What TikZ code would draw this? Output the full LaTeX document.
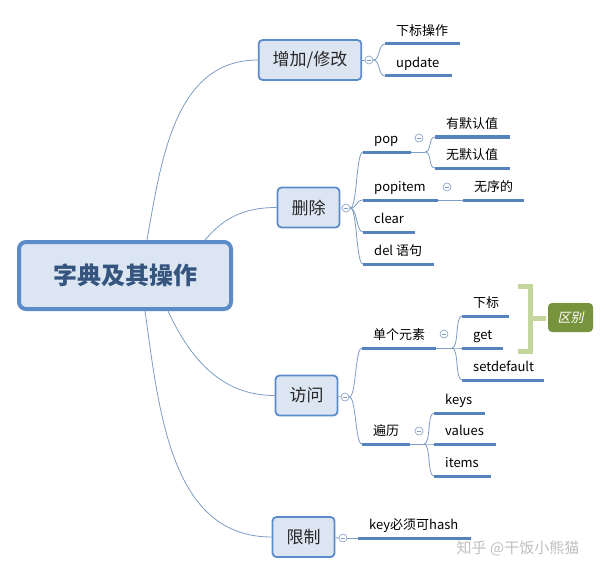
\documentclass[tikz,border=0pt]{standalone}
\usepackage{fontspec}
\setmainfont{Noto Sans CJK SC}
\newfontfamily\slantfont[FakeSlant=0.2]{Noto Sans CJK SC}
\definecolor{boxfill}{HTML}{DCE6F2}
\definecolor{boxline}{HTML}{5B8BC9}
\definecolor{ulinecol}{HTML}{5683BE}
\definecolor{linkcol}{HTML}{7D9CC4}
\definecolor{roottext}{HTML}{35557F}
\definecolor{bracecol}{HTML}{C3D69B}
\definecolor{notefill}{HTML}{77933C}
\begin{document}
\begin{tikzpicture}[x=1pt,y=-1pt,
  rootbox/.style={draw=boxline, line width=4pt, fill=boxfill, rounded corners=7pt, minimum width=212pt, minimum height=67pt, font=\fontsize{24}{28}\selectfont\bfseries, text=roottext},
  topic/.style={draw=boxline, line width=1.8pt, fill=boxfill, rounded corners=4pt, minimum height=40pt, inner xsep=14pt, font=\fontsize{17}{20}\selectfont, text=black!85},
  fold/.style={circle, draw=linkcol, fill=white, minimum size=8pt, inner sep=0pt, line width=0.6pt,
    path picture={\draw[linkcol, line width=0.6pt] ([xshift=-2.2pt]path picture bounding box.center) -- ([xshift=2.2pt]path picture bounding box.center);}},
  leaf/.style={anchor=south west, inner xsep=11pt, inner ysep=0pt, text height=10pt, text depth=8pt, font=\fontsize{13}{15}\selectfont},
  uline/.style={draw=ulinecol, line width=3pt},
  link/.style={draw=linkcol, line width=0.8pt},
  branch/.style={out=0, in=180, distance=7pt}]
\useasboundingbox (0,0) rectangle (610,575);

% root and main topics
\node[rootbox] (root) at (125,275.5) {字典及其操作};
\node[topic] (add) at (310,60) {增加/修改};
\node[topic] (del) at (308.5,207.5) {删除};
\node[topic] (acc) at (306.5,395.5) {访问};
\node[topic] (lim) at (303.5,537) {限制};
\draw[link] ([xshift=22pt]root.north) to[out=80,in=180] (add.west);
\draw[link] ([xshift=80pt]root.north) to[out=50,in=180] (del.west);
\draw[link] ([xshift=43pt]root.south) to[out=-65,in=180] (acc.west);
\draw[link] ([xshift=20pt]root.south) to[out=-82,in=180] (lim.west);

% 增加/修改
\node[fold] (addc) at (369,60) {};
\draw[link] (add) -- (addc);
\node[leaf] (sub) at (385,44) {下标操作};
\node[leaf] (upd) at (385,76) {update};
\draw[uline] (sub.south west) -- ++(75,0);
\draw[uline] (upd.south west) -- ++(67,0);
\draw[link] (addc.east) to[branch] (sub.south west);
\draw[link] (addc.east) to[branch] (upd.south west);

% 删除
\node[fold] (delc) at (346,208) {};
\draw[link] (del) -- (delc);
\node[leaf] (pop) at (363,152) {pop};
\node[leaf] (popitem) at (363,200) {popitem};
\node[leaf] (clear) at (363,232) {clear};
\node[leaf] (delst) at (363,264) {del 语句};
\draw[uline] (pop.south west) -- ++(48,0);
\draw[uline] (popitem.south west) -- ++(75,0);
\draw[uline] (clear.south west) -- ++(52,0);
\draw[uline] (delst.south west) -- ++(71,0);
\foreach \n in {pop,popitem,clear,delst}
  \draw[link] (delc.east) to[branch] (\n.south west);
% pop
\node[fold] (popc) at (419,138) {};
\coordinate (popj) at (425,152);
\node[leaf] (dflt) at (435,137) {有默认值};
\node[leaf] (nodflt) at (435,168) {无默认值};
\draw[uline] (dflt.south west) -- ++(75,0);
\draw[uline] (nodflt.south west) -- ++(75,0);
\draw[link] ([xshift=48pt]pop.south west) -- (popj);
\draw[link] (popj) to[branch] (dflt.south west);
\draw[link] (popj) to[branch] (nodflt.south west);
% popitem
\node[fold] (popitemc) at (447,187) {};
\node[leaf] (unord) at (463,200) {无序的};
\draw[uline] (unord.south west) -- ++(61,0);
\draw[link] ([xshift=75pt]popitem.south west) -- (unord.south west);

% 访问
\node[fold] (accc) at (345,397) {};
\draw[link] (acc) -- (accc);
\node[leaf] (single) at (362,348) {单个元素};
\node[leaf] (trav) at (362,444) {遍历};
\draw[uline] (single.south west) -- ++(74,0);
\draw[uline] (trav.south west) -- ++(48,0);
\draw[link] (accc.east) to[branch] (single.south west);
\draw[link] (accc.east) to[branch] (trav.south west);
% 单个元素
\node[fold] (singlec) at (444,334) {};
\coordinate (singlej) at (452,348);
\node[leaf] (idx) at (462,316) {下标};
\node[leaf] (get) at (462,348) {get};
\node[leaf] (setd) at (462,380) {setdefault};
\draw[uline] (idx.south west) -- ++(47,0);
\draw[uline] (get.south west) -- ++(41,0);
\draw[uline] (setd.south west) -- ++(82,0);
\draw[link] ([xshift=74pt]single.south west) -- (singlej);
\foreach \n in {idx,get,setd}
  \draw[link] (singlej) to[branch] (\n.south west);
% 遍历
\node[fold] (travc) at (419,431) {};
\coordinate (travj) at (424,444);
\node[leaf] (keys) at (434,413) {keys};
\node[leaf] (vals) at (434,444) {values};
\node[leaf] (items) at (434,476) {items};
\draw[uline] (keys.south west) -- ++(51,0);
\draw[uline] (vals.south west) -- ++(62,0);
\draw[uline] (items.south west) -- ++(57,0);
\draw[link] ([xshift=48pt]trav.south west) -- (travj);
\foreach \n in {keys,vals,items}
  \draw[link] (travj) to[branch] (\n.south west);
% 区别
\draw[bracecol, line width=5pt] (518,286) -- (530,286) -- (530,351) -- (518,351);
\draw[bracecol, line width=5pt] (530,318) -- (546,318);
\node[fill=notefill, rounded corners=4pt, minimum width=45pt, minimum height=29pt, text=white, font=\fontsize{13}{15}\slantfont] (diff) at (570.5,317.5) {区别};

% 限制
\node[fold] (limc) at (343,538) {};
\draw[link] (lim) -- (limc);
\node[leaf] (hash) at (358,538) {key必须可hash};
\draw[uline] (hash.south west) -- ++(113,0);
\draw[link] (limc.east) -- (hash.south west);

\node[text=black!25, font=\fontsize{15}{18}\selectfont] (mark) at (518,548) {知乎 @干饭小熊猫};
\end{tikzpicture}
\end{document}
